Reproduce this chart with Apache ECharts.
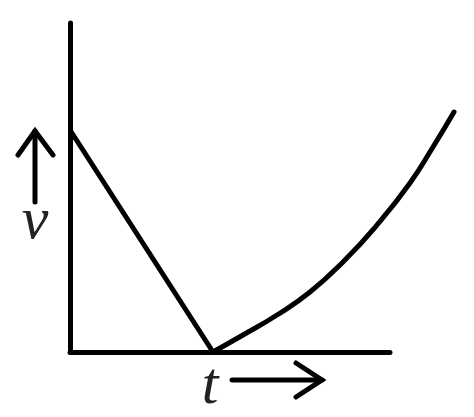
<!DOCTYPE html>
<html>
<head>
<meta charset="utf-8">
<script src="https://cdn.jsdelivr.net/npm/echarts@6/dist/echarts.min.js"></script>
<style>html,body{margin:0;padding:0;background:#fff;}#c{width:474px;height:417px;}</style>
</head>
<body>
<div id="c"></div>
<script>
// Data (arbitrary units)
const lineT = [0, 143];
const lineV = [222, 0];
const curveT = [143, 173, 207, 240, 273, 307, 340, 363, 384];
const curveV = [0, 17, 37, 60, 90, 127, 169, 205, 240];
const tAxisEnd = 320;   // where the drawn t-axis stops
const tMax = 385;       // plotting range (curve goes past the t-axis end)
const vMax = 329;
const yLabel = 'v';
const xLabel = 't';

const chart = echarts.init(document.getElementById('c'));
const pairs = (xs, ys) => xs.map((x, i) => [x, ys[i]]);
const serif = '"Liberation Serif", "DejaVu Serif", serif';

chart.setOption({
  animation: false,
  backgroundColor: '#fff',
  grid: { left: 70, right: 19, top: 23, bottom: 65 },
  xAxis: {
    type: 'value', min: 0, max: tMax,
    axisLine: { show: false },
    axisTick: { show: false }, axisLabel: { show: false }, splitLine: { show: false }
  },
  yAxis: {
    type: 'value', min: 0, max: vMax,
    axisLine: { show: true, onZero: false, lineStyle: { color: '#000', width: 5, cap: 'round' } },
    axisTick: { show: false }, axisLabel: { show: false }, splitLine: { show: false }
  },
  series: [
    {
      type: 'line', data: pairs(lineT, lineV), symbol: 'none', clip: false,
      lineStyle: { color: '#000', width: 5 },
      markLine: {
        silent: true, symbol: 'none', label: { show: false },
        lineStyle: { color: '#000', width: 5, type: 'solid', cap: 'round' },
        data: [[{ coord: [0, 0] }, { coord: [tAxisEnd, 0] }]]
      }
    },
    {
      type: 'line', data: pairs(curveT, curveV), symbol: 'none', smooth: 0.5, clip: false,
      lineStyle: { color: '#000', width: 5, cap: 'round' }
    }
  ],
  graphic: [
    { type: 'text', x: 35, y: 192,
      style: { text: yLabel, font: 'italic 60px ' + serif, fill: '#222', align: 'center', verticalAlign: 'top' } },
    { type: 'text', x: 210, y: 357,
      style: { text: xLabel, font: 'italic 60px ' + serif, fill: '#222', align: 'center', verticalAlign: 'top' } },
    { type: 'polyline', shape: { points: [[35, 202], [35, 131]] },
      style: { stroke: '#000', lineWidth: 5, lineCap: 'round' } },
    { type: 'polyline', shape: { points: [[18, 155], [35, 131], [53, 155]] },
      style: { stroke: '#000', lineWidth: 5, lineCap: 'round', lineJoin: 'miter', fill: null } },
    { type: 'polyline', shape: { points: [[232, 380], [322, 380]] },
      style: { stroke: '#000', lineWidth: 5, lineCap: 'round' } },
    { type: 'polyline', shape: { points: [[296, 363], [322, 380], [296, 397]] },
      style: { stroke: '#000', lineWidth: 5, lineCap: 'round', lineJoin: 'miter', fill: null } }
  ]
});
</script>
</body>
</html>
